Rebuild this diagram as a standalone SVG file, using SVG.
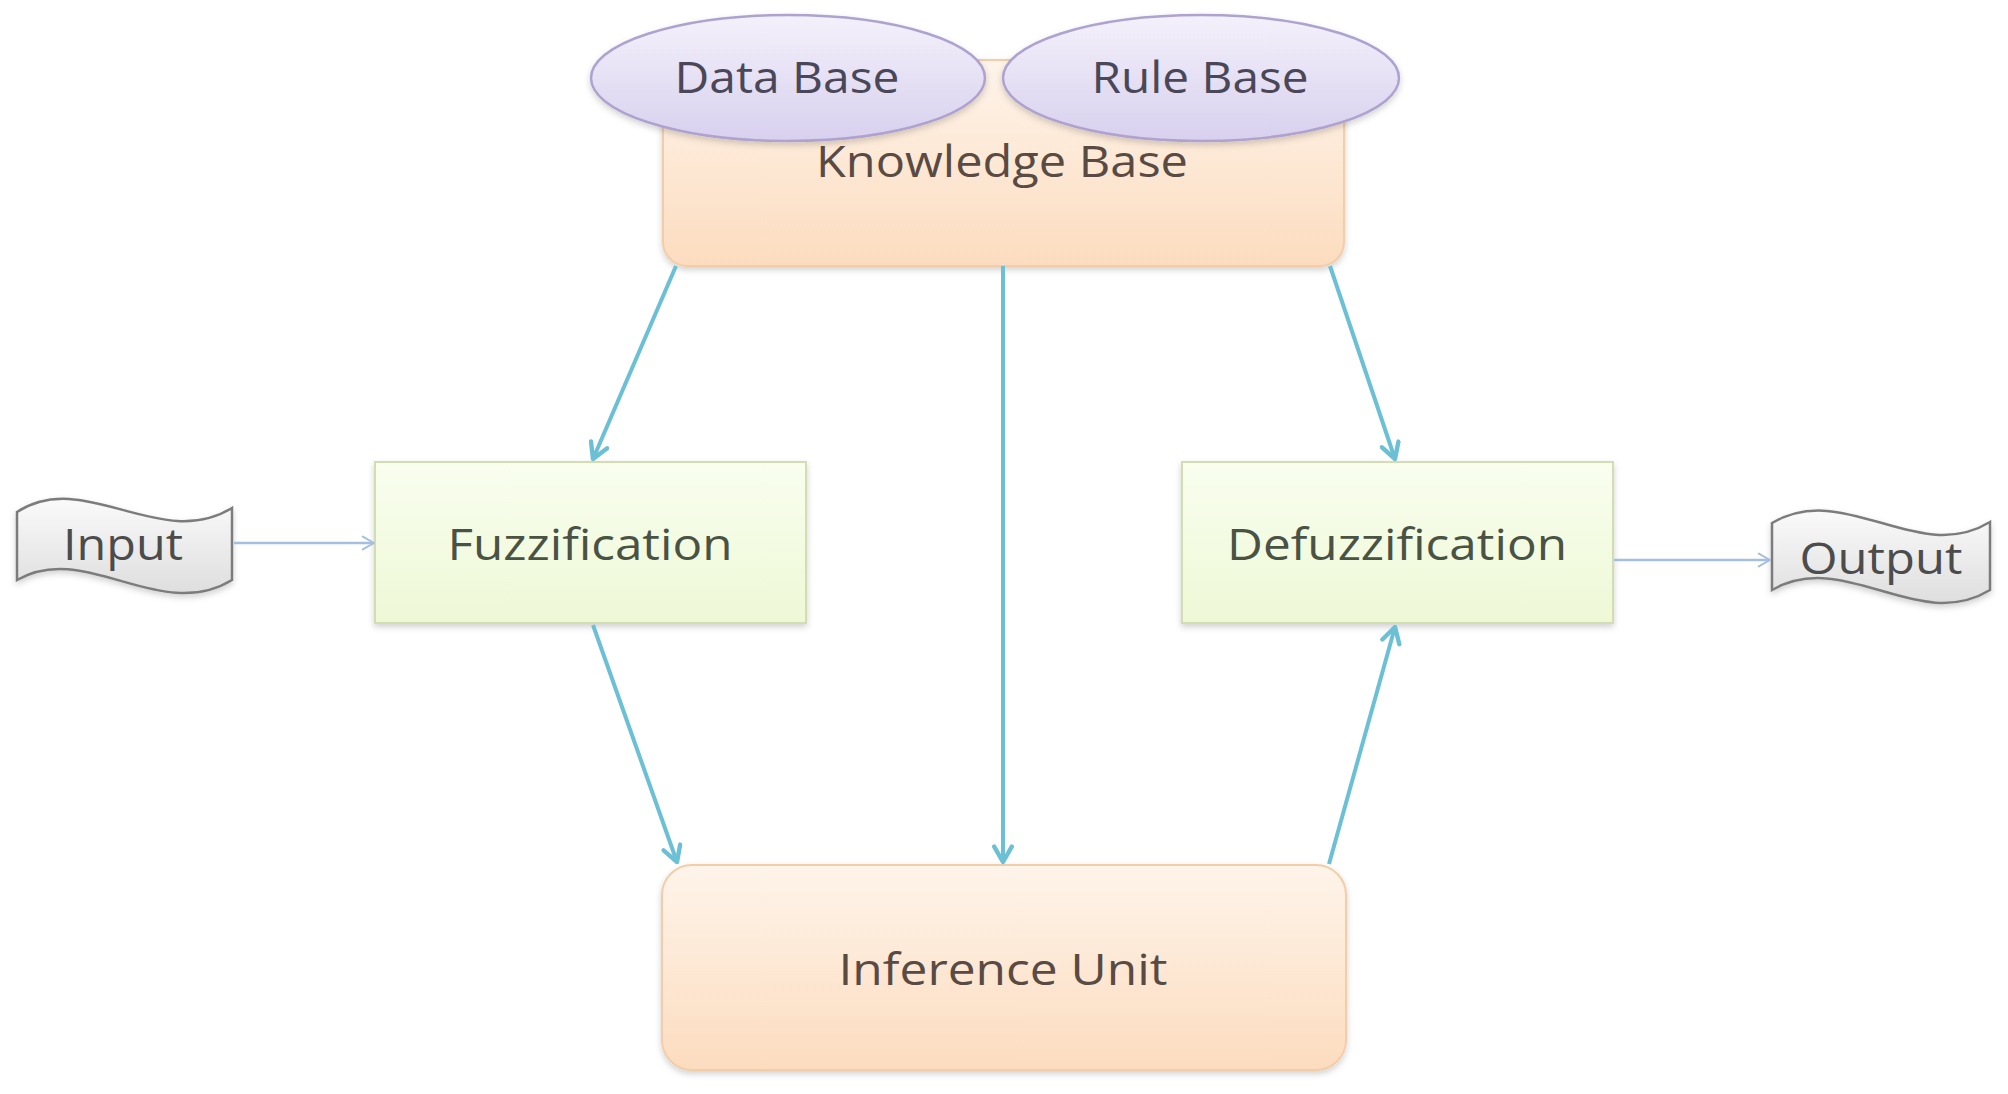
<svg xmlns="http://www.w3.org/2000/svg" width="2008" height="1094" viewBox="0 0 2008 1094">
<defs>
<linearGradient id="gOrange" x1="0" y1="0" x2="0" y2="1"><stop offset="0" stop-color="#fef4ea"/><stop offset="1" stop-color="#fcdcbf"/></linearGradient>
<linearGradient id="gGreen" x1="0" y1="0" x2="0" y2="1"><stop offset="0" stop-color="#f9feef"/><stop offset="1" stop-color="#eef8d6"/></linearGradient>
<linearGradient id="gPurple" x1="0" y1="0" x2="0" y2="1"><stop offset="0" stop-color="#f4f1fb"/><stop offset="1" stop-color="#d8d0ee"/></linearGradient>
<linearGradient id="gGray" x1="0" y1="0" x2="0" y2="1"><stop offset="0" stop-color="#fafafa"/><stop offset="1" stop-color="#dedede"/></linearGradient>
<filter id="sh" x="-10%" y="-10%" width="120%" height="130%"><feDropShadow dx="0" dy="3" stdDeviation="3" flood-color="#000" flood-opacity="0.18"/></filter>
<marker id="ahBig" viewBox="0 0 20 20" refX="17" refY="10" markerWidth="22" markerHeight="22" markerUnits="userSpaceOnUse" orient="auto"><path d="M3,2 L17,10 L3,18" fill="none" stroke="#6cc0d6" stroke-width="4" stroke-linecap="round" stroke-linejoin="round"/></marker>
<marker id="ahThin" viewBox="0 0 20 20" refX="18" refY="10" markerWidth="16" markerHeight="16" markerUnits="userSpaceOnUse" orient="auto"><path d="M4,2 L18,10 L4,18" fill="none" stroke="#a6bfdf" stroke-width="2.5" stroke-linecap="round" stroke-linejoin="round"/></marker>
</defs>
<style>
.orange{fill:url(#gOrange);stroke:#f3cda8;stroke-width:2;filter:url(#sh)}
.green{fill:url(#gGreen);stroke:#d2deb2;stroke-width:2;filter:url(#sh)}
.purple{fill:url(#gPurple);stroke:#aea3cf;stroke-width:2.5;filter:url(#sh)}
.wave{fill:url(#gGray);stroke:#7c7c7c;stroke-width:2.5;filter:url(#sh)}
.t{font-family:"Open Sans","Liberation Sans",sans-serif;font-size:44px;fill:#4c4c4c;text-anchor:middle}
.tb{fill:#5a4a44}
.tg{fill:#4a5244}
.tp{fill:#4a4858}
.big{fill:none;stroke:#6cc0d6;stroke-width:4;marker-end:url(#ahBig)}
.thin{fill:none;stroke:#a6bfdf;stroke-width:2.5;marker-end:url(#ahThin)}
</style>
<rect width="2008" height="1094" fill="#ffffff"/>
<g id="knowledge-base">
<rect class="orange" x="663" y="60" width="681" height="206" rx="24"/>
<text class="t tb" x="1002" y="177" textLength="372" lengthAdjust="spacingAndGlyphs">Knowledge Base</text>
</g>
<g id="data-base">
<ellipse class="purple" cx="788" cy="78" rx="197" ry="63"/>
<text class="t tp" x="787" y="93" textLength="225" lengthAdjust="spacingAndGlyphs">Data Base</text>
</g>
<g id="rule-base">
<ellipse class="purple" cx="1201" cy="78" rx="198" ry="63"/>
<text class="t tp" x="1200" y="93" textLength="217" lengthAdjust="spacingAndGlyphs">Rule Base</text>
</g>
<g id="fuzzification">
<rect class="green" x="375" y="462" width="431" height="161"/>
<text class="t tg" x="590" y="560" textLength="285" lengthAdjust="spacingAndGlyphs">Fuzzification</text>
</g>
<g id="defuzzification">
<rect class="green" x="1182" y="462" width="431" height="161"/>
<text class="t tg" x="1397" y="560" textLength="340" lengthAdjust="spacingAndGlyphs">Defuzzification</text>
</g>
<g id="inference-unit">
<rect class="orange" x="662" y="865" width="684" height="205" rx="30"/>
<text class="t tb" x="1003" y="985" textLength="329" lengthAdjust="spacingAndGlyphs">Inference Unit</text>
</g>
<g id="input">
<path class="wave" d="M17,512 C85,468 160,552 232,508 L232,580 C160,624 85,540 17,580 Z"/>
<text class="t" x="123" y="560" textLength="120" lengthAdjust="spacingAndGlyphs">Input</text>
</g>
<g id="output">
<path class="wave" d="M1772,523 C1845,480 1918,566 1990,522 L1990,590 C1918,634 1845,548 1772,590 Z"/>
<text class="t" x="1881" y="574" textLength="163" lengthAdjust="spacingAndGlyphs">Output</text>
</g>
<g id="connectors">
<line class="big" x1="676" y1="266" x2="593" y2="459"/>
<line class="big" x1="1003" y1="266" x2="1003" y2="862"/>
<line class="big" x1="1330" y1="266" x2="1395" y2="459"/>
<line class="big" x1="593" y1="625" x2="677" y2="862"/>
<line class="big" x1="1329" y1="864" x2="1395" y2="627"/>
<line class="thin" x1="234" y1="543" x2="374" y2="543"/>
<line class="thin" x1="1614" y1="560" x2="1770" y2="560"/>
</g>
</svg>
